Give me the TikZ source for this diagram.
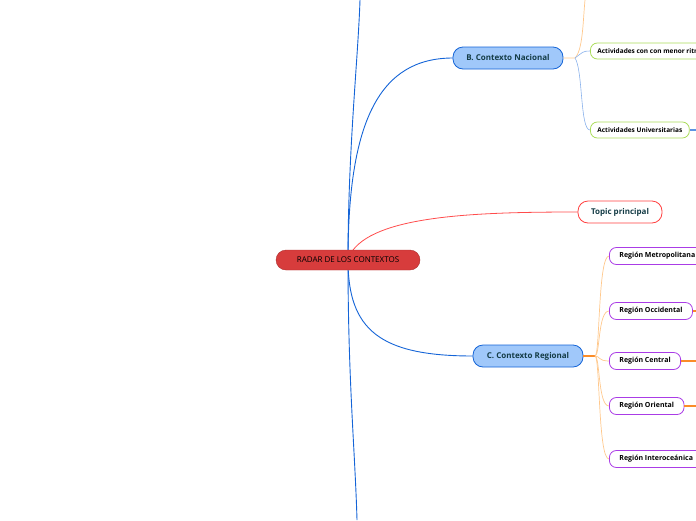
\documentclass[tikz,border=0pt]{standalone}
\usepackage{fontspec}
\setmainfont{Open Sans}
\definecolor{bln}{RGB}{20,100,215}
\definecolor{blf}{RGB}{160,200,250}
\definecolor{rdf}{RGB}{215,60,60}
\definecolor{grn}{RGB}{170,220,90}
\definecolor{pur}{RGB}{170,60,230}
\definecolor{orl}{RGB}{255,200,140}
\definecolor{oro}{RGB}{250,140,40}
\definecolor{txt}{RGB}{20,60,70}
\begin{document}
\begin{tikzpicture}[x=1pt,y=-1pt,
  bl/.style={draw=bln,line width=0.9pt},
  rootn/.style={draw=rdf!80!black,fill=rdf,rounded corners=10pt,minimum width=144pt,minimum height=20pt,font=\fontsize{8}{9}\selectfont,text=black,inner sep=0pt},
  ctx/.style={draw=bln,fill=blf,rounded corners=10pt,minimum width=110pt,minimum height=22pt,font=\bfseries\fontsize{8}{9}\selectfont,text=txt,inner sep=0pt,line width=0.8pt},
  top/.style={draw=red!75,fill=white,rounded corners=10pt,minimum width=84pt,minimum height=22pt,font=\bfseries\fontsize{8}{9}\selectfont,text=txt,inner sep=0pt,line width=0.8pt},
  gr/.style={draw=grn,fill=white,rounded corners=7pt,minimum height=16pt,font=\bfseries\fontsize{6.5}{7}\selectfont,inner xsep=7pt,inner ysep=2pt,anchor=west,line width=0.8pt},
  pu/.style={draw=pur,fill=white,rounded corners=7pt,minimum height=17pt,font=\bfseries\fontsize{7}{8}\selectfont,inner xsep=10pt,inner ysep=2pt,anchor=west,line width=0.8pt},
  lor/.style={draw=orl,line width=0.7pt},
  oro/.style={draw=oro,line width=1.3pt}]
\useasboundingbox (0,0) rectangle (696,520);
\coordinate (top) at (360,0);
\coordinate (bot) at (357,520);
\coordinate (hub) at (348,260);
\draw[bl] (hub) .. controls (348,150) and (358,60) .. (top);
\draw[bl] (hub) .. controls (348,380) and (355,450) .. (bot);
\draw[bl] (hub) .. controls (348,120) and (380,58) .. (453,58);
\draw[bl] (hub) .. controls (348,330) and (380,356) .. (473,356);
\draw[red!70,line width=0.8pt] (353,250) .. controls (380,215) and (480,212) .. (578,212);
\node[rootn] (root) at (348,260) {RADAR DE LOS CONTEXTOS};
\node[ctx] (B) at (508,58) {B. Contexto Nacional};
\node[ctx] (C) at (528,356) {C. Contexto Regional};
\node[top] (T) at (620,212) {Topic principal};
\node[gr] (a1) at (590,51) {Actividades con con menor ritmo};
\node[gr] (a2) at (590,130) {Actividades Universitarias};
\node[pu] (r1) at (609,256) {Región Metropolitana};
\node[pu] (r2) at (609,311) {Región Occidental};
\node[pu] (r3) at (609,361) {Región Central};
\node[pu] (r4) at (609,406) {Región Oriental};
\node[pu] (r5) at (609,459) {Región Interoceánica};
\coordinate (bo) at (585,0);
\draw[lor] (B.east) -- (575,58) .. controls (583,50) and (583,20) .. (bo);
\draw[bln!50,line width=0.6pt] (575,58) .. controls (583,52) and (583,51) .. (a1.west);
\draw[bln!50,line width=0.6pt] (575,58) .. controls (583,70) and (580,130) .. (a2.west);
\draw[bln!70,line width=1.3pt] (a2.east) -- (696,130);
\draw[oro] (C.east) -- (595,356);
\foreach \r in {r1,r2,r3,r4,r5}
  \draw[lor] (595,356) .. controls (600,356) and (598,0|-\r.west) .. (\r.west);
\draw[oro] (r2.east) -- (696,311);
\draw[oro] (r3.east) -- (696,361);
\draw[oro] (r4.east) -- (696,406);
\end{tikzpicture}
\end{document}
